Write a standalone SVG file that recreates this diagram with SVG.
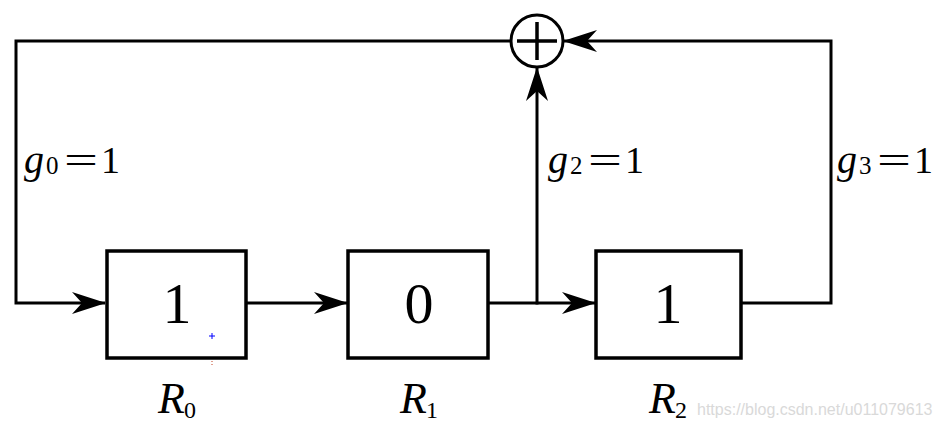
<svg xmlns="http://www.w3.org/2000/svg" width="940" height="429" viewBox="0 0 940 429">
<style>
.w{fill:none;stroke:#000;stroke-width:3;stroke-linejoin:miter}
.box{fill:#fff;stroke:#000;stroke-width:3.5}
.t{font-family:"Liberation Serif","Times New Roman",serif;fill:#000}
.i{font-style:italic}
.num{font-size:58px;text-anchor:middle}
.lab{font-size:38px}
.gg{font-size:40px}
.sub{font-size:25px}
.R{font-size:44px}
.Rs{font-size:24px}
.wm{font-family:"Liberation Sans",Arial,sans-serif;font-size:16px;fill:#d9d9d9}
</style>
<defs>
<marker id="ah" markerUnits="userSpaceOnUse" viewBox="-34 -12 36 24" refX="0" refY="0" markerWidth="36" markerHeight="24" orient="auto">
<path d="M1,0 L-33,-11 L-23,0 L-33,11 Z" fill="#000"/>
</marker>
</defs>
<rect width="940" height="429" fill="#fff"/>
<g id="connectors">
<polyline class="w" points="510,41 16,41 16,303 105,303" marker-end="url(#ah)"/>
<line class="w" x1="246" y1="303" x2="347" y2="303" marker-end="url(#ah)"/>
<line class="w" x1="488" y1="303" x2="595" y2="303" marker-end="url(#ah)"/>
<line class="w" x1="537" y1="304.5" x2="537" y2="68" marker-end="url(#ah)"/>
<polyline class="w" points="741,303 831,303 831,41 564,41" marker-end="url(#ah)"/>
</g>
<g id="xor">
<circle cx="537" cy="41" r="26" fill="#fff" stroke="#000" stroke-width="3"/>
<path d="M517,41 H557 M537,22 V60" stroke="#000" stroke-width="3.5"/>
</g>
<g id="R0">
<rect class="box" x="107" y="251" width="139" height="107"/>
<text class="t num" x="177" y="323">1</text>
<text class="t i R" x="158" y="413">R</text><text class="t Rs" x="184" y="418">0</text>
<path d="M209,336 H215 M212,333 V339" stroke="#00f" stroke-width="1"/>
<path d="M212,361 V362 M212,364 V365" stroke="#c04020" stroke-width="1"/>
</g>
<g id="R1">
<rect class="box" x="348" y="251" width="140" height="107"/>
<text class="t num" x="419" y="323">0</text>
<text class="t i R" x="400" y="413">R</text><text class="t Rs" x="426" y="418">1</text>
</g>
<g id="R2">
<rect class="box" x="596" y="251" width="145" height="107"/>
<text class="t num" x="668" y="323">1</text>
<text class="t i R" x="649" y="413">R</text><text class="t Rs" x="675" y="418">2</text>
</g>
<g id="g0" transform="translate(25,173)">
<text class="t i gg" x="-1" y="0">g</text><text class="t sub" x="21" y="1">0</text>
<text class="t lab" x="39" y="0" textLength="34" lengthAdjust="spacingAndGlyphs">=</text><text class="t lab" x="76" y="0">1</text>
</g>
<g id="g2" transform="translate(549,173)">
<text class="t i gg" x="-1" y="0">g</text><text class="t sub" x="21" y="1">2</text>
<text class="t lab" x="39" y="0" textLength="34" lengthAdjust="spacingAndGlyphs">=</text><text class="t lab" x="76" y="0">1</text>
</g>
<g id="g3" transform="translate(838,173)">
<text class="t i gg" x="-1" y="0">g</text><text class="t sub" x="21" y="1">3</text>
<text class="t lab" x="39" y="0" textLength="34" lengthAdjust="spacingAndGlyphs">=</text><text class="t lab" x="76" y="0">1</text>
</g>
<text class="wm" x="697" y="415">https://blog.csdn.net/u011079613</text>
</svg>
